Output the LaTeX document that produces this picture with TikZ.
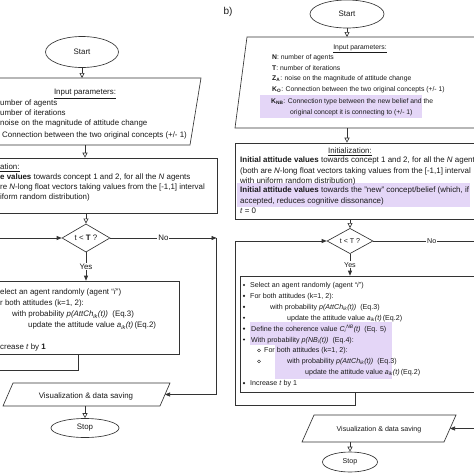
\documentclass[tikz,border=0pt]{standalone}
\usepackage{fontspec}
\setmainfont{Liberation Sans}
\usetikzlibrary{shapes.geometric,arrows.meta}
\definecolor{hl}{HTML}{E4D6F7}
\definecolor{ln}{HTML}{333333}
\definecolor{tx}{HTML}{1A1A1A}
\newcommand\fL{\fontsize{7.9}{9}\selectfont}
\newcommand\fR{\fontsize{7.1}{8.5}\selectfont}
\newcommand\fRi{\fontsize{6.8}{8}\selectfont}
\newcommand\fRn{\fontsize{7.95}{9}\selectfont}
\newcommand\att{\textit{p(AttCh\textsubscript{ik}(t))}}
\newcommand\aik{\textit{a\textsubscript{ik}(t)}}
\begin{document}
\begin{tikzpicture}[x=1pt,y=-1pt,
  shp/.style={draw=ln,line width=0.65pt},
  txt/.style={inner sep=0pt,anchor=base west,text=tx},
  ctx/.style={inner sep=0pt,anchor=base,text=tx},
  hol/.style={draw=ln,line width=0.65pt,-{Triangle[open,length=5pt,width=5pt]}},
  fil/.style={draw=ln,line width=0.65pt,-{Triangle[length=5pt,width=4pt]}},
  lin/.style={draw=ln,line width=0.65pt},
  oval/.style={shp,ellipse,inner sep=0pt,text=tx},
  dec/.style={shp,diamond,inner sep=0pt,text=tx},
  box/.style={shp,rectangle,inner sep=0pt},
  lab/.style={fill=white,inner sep=1pt,text=tx},
  bul/.style={fill=tx,circle,inner sep=0pt,minimum size=2.4pt},
  obul/.style={draw=tx,circle,inner sep=0pt,minimum size=3pt,line width=0.4pt},
]
\useasboundingbox (0,0) rectangle (474,474);
\clip (0,0) rectangle (474,474);
\fill[white] (0,0) rectangle (474,474);

% ================= LEFT PANEL =================
\node[oval,minimum width=73,minimum height=31] (startL) at (82,52) {\fL Start};
\draw[shp] (-25,78) -- (201,78) -- (190,145) -- (-36,145) -- cycle;
\coordinate (inLt) at (82,78);
\coordinate (inLb) at (85,145);
\draw[hol] (startL.south) -- (inLt);
\node[ctx] (inLh) at (85,94.7) {\fL\underline{Input parameters:}};
\node[txt] (inL1) at (0,105.7) {\fL umber of agents};
\node[txt] (inL2) at (0,115.7) {\fL umber of iterations};
\node[txt] (inL3) at (0,125.7) {\fL noise on the magnitude of attitude change};
\node[txt] (inL4) at (2,137.7) {\fL Connection between the two original concepts (+/- 1)};

\node[box,minimum width=247,minimum height=55] (initL) at (93.5,185.5) {};
\draw[hol] (inLb) -- (inLb |- initL.north);
\node[txt] (iniL0) at (0,169.7) {\fL\underline{ation:}};
\node[txt] (iniL1) at (0,179.7) {\fL\textbf{e values} towards concept 1 and 2, for all the \textit{N} agents};
\node[txt] (iniL2) at (0,189.7) {\fL re \textit{N}-long float vectors taking values from the [-1,1] interval};
\node[txt] (iniL3) at (0,199.7) {\fL iform random distribution)};

\node[dec,minimum width=48,minimum height=26] (decL) at (86,238) {\fL t < \textbf{T} ?};
\draw[hol] (decL.north |- initL.south) -- (decL.north);
\coordinate (noLc) at (216.5,238);
\draw[fil] (decL.east) -- node[lab] (noL) {\fL No} (noLc);

\node[box,minimum width=209,minimum height=73] (procL) at (74.5,317.5) {};
\draw[fil] (decL.south) -- node[lab] (yesL) {\fL Yes} (decL.south |- procL.north);
\node[txt] (prL1) at (0,294.8) {\fL elect an agent randomly (agent ``\textit{i}'')};
\node[txt] (prL2) at (0,305.8) {\fL r both attitudes (k=1, 2):};
\node[txt] (prL3) at (12,316.8) {\fL with probability \att\ \ (Eq.3)};
\node[txt] (prL4) at (28,327.8) {\fL update the attitude value \aik\,(Eq.2)};
\node[txt] (prL5) at (0,349.8) {\fL crease \textit{t} by \textbf{1}};

\coordinate (lpL1) at (78,370);
\coordinate (lpL2) at (-10,370);
\coordinate (lpL3) at (-10,238);
\draw[fil] (procL.south -| lpL1) -- (lpL1) -- (lpL2) -- (lpL3) -- (decL.west);

\draw[shp] (13,383) -- (170,383) -- (160,406) -- (3,406) -- cycle;
\node[ctx] (visL) at (86,398.7) {\fL Visualization \& data saving};
\coordinate (visLr) at (165,394.5);
\coordinate (visLb) at (85,406);
\draw[fil] (noLc) |- (visLr);
\node[oval,minimum width=68,minimum height=19] (stopL) at (85,428) {\fL Stop};
\draw[hol] (visLb) -- (stopL.north);

% ================= RIGHT PANEL =================
\node[inner sep=0pt,text=tx] (lblb) at (228,11.5) {\fontsize{10}{12}\selectfont b)};
\node[oval,minimum width=74,minimum height=28] (startR) at (347,14) {\fRn Start};
\fill[hl] (260,95) rectangle (422,118);
\draw[shp] (247,37) -- (500,37) -- (488,128) -- (235,128) -- cycle;
\coordinate (inRt) at (347,37);
\coordinate (inRb) at (347,128);
\draw[hol] (startR.south) -- (inRt);
\node[ctx] (inRh) at (360,49.5) {\fRi\underline{Input parameters:}};
\node[txt] (inR1) at (272,59.5) {\fRi\textbf{N}: number of agents};
\node[txt] (inR2) at (272,70.5) {\fRi\textbf{T}: number of iterations};
\node[txt] (inR3) at (272,80.5) {\fRi\textbf{Z\textsubscript{A}}: noise on the magnitude of attitude change};
\node[txt] (inR4) at (272,91.5) {\fRi\textbf{K\textsubscript{O}}: Connection between the two original concepts (+/- 1)};
\node[txt] (inR5) at (271,103.5) {\fRi\textbf{K\textsubscript{NB}}: Connection type between the new belief and the};
\node[txt] (inR6) at (290,114.5) {\fRi original concept it is connecting to (+/- 1)};

\fill[hl] (237,183) rectangle (470,207);
\node[box,minimum width=265,minimum height=76] (initR) at (367.5,181) {};
\draw[hol] (inRb) -- (inRb |- initR.north);
\node[ctx] (iniR0) at (350,153.8) {\fRn\underline{Initialization:}};
\node[txt] (iniR1) at (240,162.8) {\fRn\textbf{Initial attitude values} towards concept 1 and 2, for all the \textit{N} agent};
\node[txt] (iniR2) at (240,173.3) {\fRn(both are \textit{N}-long float vectors taking values from the [-1,1] interval};
\node[txt] (iniR3) at (240,183.3) {\fRn with uniform random distribution)};
\node[txt] (iniR4) at (240,192.8) {\fRn\textbf{Initial attitude values} towards the "new" concept/belief (which, if};
\node[txt] (iniR5) at (240,203.3) {\fRn accepted, reduces cognitive dissonance)};
\node[txt] (iniR6) at (240,213.8) {\fRn\textit{t} = 0};

\node[dec,minimum width=46,minimum height=24] (decR) at (350,241) {\fR t < T ?};
\draw[hol] (decR.north |- initR.south) -- (decR.north);
\coordinate (noRc) at (490,241);
\draw[lin] (decR.east) -- node[lab] (noR) {\fR No} (noRc);

\fill[hl] (250,322) rectangle (392,345);
\fill[hl] (275,345) rectangle (392,379);
\node[box,minimum width=260,minimum height=116] (procR) at (370,334) {};
\draw[fil] (decR.south) -- node[lab] (yesR) {\fR Yes} (decR.south |- procR.north);
\foreach \n/\yy in {1/285,2/295.9,3/306.8,4/317.7,5/328.6,6/339.5,10/383.1}
  \node[bul] (bR\n) at (244,\yy) {};
\node[obul] (oR7) at (259,350.4) {};
\node[obul] (oR8) at (259,361.3) {};
\node[txt] (prR1) at (250,287.5) {\fR Select an agent randomly (agent ``\textit{i}'')};
\node[txt] (prR2) at (250,298.4) {\fR For both attitudes (k=1, 2):};
\node[txt] (prR3) at (270,309.3) {\fR with probability \att\ \ (Eq.3)};
\node[txt] (prR4) at (287,320.2) {\fR update the attitude value \aik\,(Eq.2)};
\node[txt] (prR5) at (251,331.1) {\fR Define the coherence value \textit{C\textsubscript{i}\textsuperscript{NB}(t)}\ \ (Eq. 5)};
\node[txt] (prR6) at (251,342.0) {\fR With probability \textit{p(NB\textsubscript{i}(t))}\ \ (Eq.4):};
\node[txt] (prR7) at (264,352.9) {\fR For both attitudes (k=1, 2):};
\node[txt] (prR8) at (287,363.8) {\fR with probability \att\ \ (Eq.3)};
\node[txt] (prR9) at (305,374.7) {\fR update the attitude value \aik\,(Eq.2)};
\node[txt] (prR10) at (250,385.6) {\fR Increase \textit{t} by 1};

\coordinate (lpR1) at (355,405);
\coordinate (lpR2) at (235,405);
\coordinate (lpR3) at (235,241);
\draw[fil] (procR.south -| lpR1) -- (lpR1) -- (lpR2) -- (lpR3) -- (decR.west);

\draw[shp] (314,415) -- (456,415) -- (444,442) -- (302,442) -- cycle;
\node[ctx] (visR) at (379,431) {\fR Visualization \& data saving};
\coordinate (visRr) at (450,428.5);
\coordinate (visRb) at (350,442);
\coordinate (noRd) at (490,428.5);
\draw[fil] (noRd) -- (visRr);
\node[oval,minimum width=55,minimum height=20] (stopR) at (350,462) {\fR Stop};
\draw[hol] (visRb) -- (stopR.north);
\end{tikzpicture}
\end{document}
